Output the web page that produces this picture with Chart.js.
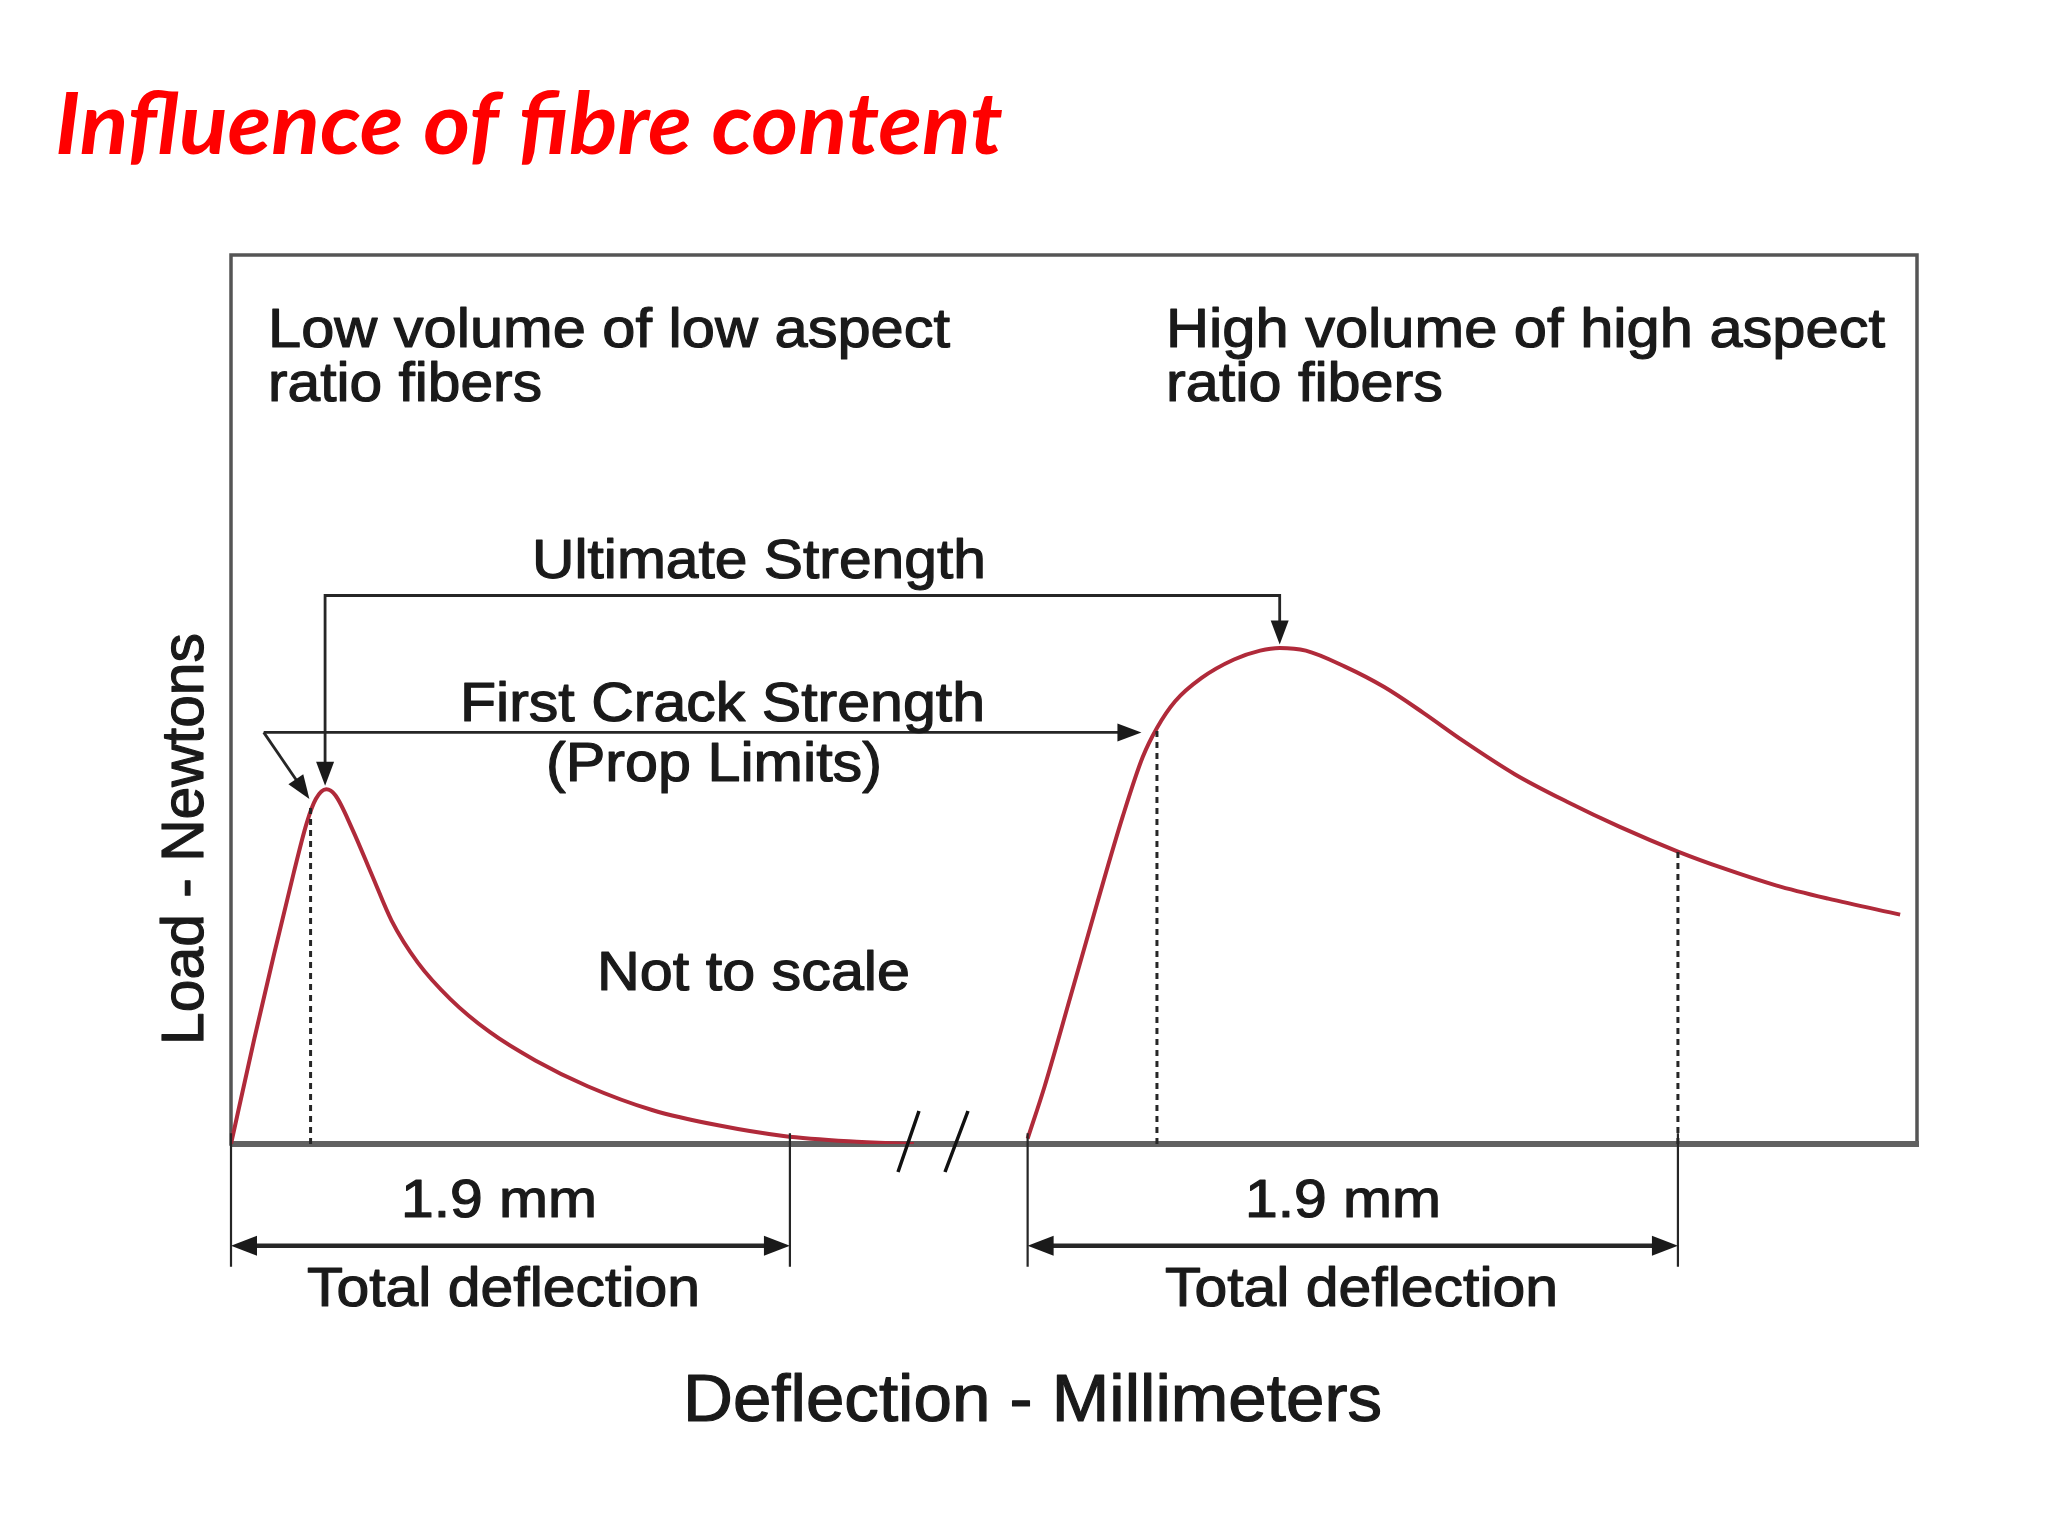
<!DOCTYPE html>
<html><head><meta charset="utf-8">
<script src="https://cdn.jsdelivr.net/npm/chart.js@4.4.1/dist/chart.umd.min.js"></script>
<style>html,body{margin:0;padding:0;background:#fff}canvas{display:block}</style>
</head><body>
<canvas id="c" width="2048" height="1536" style="width:2048px;height:1536px"></canvas>
<script>
// ---- data (arbitrary units: x 0..100 across the frame, y 0..100 up the frame) ----
const curve1X = [0, 1.39, 2.56, 3.72, 4.49, 5.03, 5.65, 6.20, 7.20, 8.37, 9.53, 11.08, 13.01, 15.34, 18.05, 21.15, 25.02, 28.89, 32.77, 36.64, 40.5];
const curve1Y = [0, 11.9, 21.4, 30.5, 36.1, 38.8, 39.9, 39.2, 35.4, 30.2, 25.1, 20.4, 16.3, 12.6, 9.4, 6.5, 3.8, 2.1, 0.9, 0.3, 0];
const curve2X = [47.25, 48.26, 49.81, 51.36, 52.90, 54.07, 54.92, 56.00, 57.55, 59.49, 61.04, 62.20, 63.75, 66.07, 68.40, 70.72, 73.04, 76.14, 79.24, 82.34, 85.82, 88.54, 91.63, 94.73, 99.0];
const curve2Y = [0.6, 6.5, 16.7, 27.0, 36.9, 43.5, 46.8, 49.8, 52.4, 54.5, 55.5, 55.8, 55.5, 53.7, 51.4, 48.5, 45.4, 41.6, 38.5, 35.7, 32.9, 31.0, 29.1, 27.6, 25.8];

const dottedX   = [4.72, 54.92, 85.82];
const dottedTop = [37.9, 46.8, 32.9];
const spanStart = [0, 47.25];
const spanEnd   = [33.15, 85.82];
const spanLabel = ['1.9 mm', '1.9 mm'];
const spanTitle = ['Total deflection', 'Total deflection'];

const TITLE = 'Influence of fibre content';
const X_TITLE = 'Deflection - Millimeters';
const Y_TITLE = 'Load - Newtons';
const LEFT_NOTE = ['Low volume of low aspect', 'ratio fibers'];
const RIGHT_NOTE = ['High volume of high aspect', 'ratio fibers'];

const CURVE = '#b02a3a';
const INK = '#1a1a1a';

const toPts = (xs, ys) => xs.map((x, i) => ({x, y: ys[i]}));

function fitText(ctx, text, x, y, width, size, font, align, heavy) {
  ctx.save();
  ctx.font = font.replace('{s}', size + 'px');
  ctx.textBaseline = 'alphabetic';
  ctx.textAlign = 'left';
  const w = ctx.measureText(text).width;
  const k = width / w;
  let left = x;
  if (align === 'center') left = x - width / 2;
  ctx.translate(left, y);
  ctx.scale(k, 1);
  ctx.fillText(text, 0, 0);
  if (heavy) {
    ctx.strokeStyle = ctx.fillStyle;
    ctx.lineWidth = heavy;
    ctx.lineJoin = 'round';
    ctx.strokeText(text, 0, 0);
  }
  ctx.restore();
}

function arrowHead(ctx, tx, ty, fx, fy, len, half) {
  const a = Math.atan2(ty - fy, tx - fx);
  const c = Math.cos(a), s = Math.sin(a);
  ctx.beginPath();
  ctx.moveTo(tx, ty);
  ctx.lineTo(tx - len * c + half * s, ty - len * s - half * c);
  ctx.lineTo(tx - len * c - half * s, ty - len * s + half * c);
  ctx.closePath();
  ctx.fill();
}

const frame = {
  id: 'frame',
  beforeDatasetsDraw(chart) {
    const {ctx, chartArea: a} = chart;
    ctx.save();
    ctx.strokeStyle = '#555';
    ctx.lineWidth = 3.5;
    ctx.strokeRect(a.left, a.top, a.right - a.left, a.bottom - a.top);
    ctx.strokeStyle = '#616161';
    ctx.lineWidth = 6;
    ctx.beginPath(); ctx.moveTo(a.left - 1, a.bottom); ctx.lineTo(a.right + 2, a.bottom); ctx.stroke();
    ctx.restore();
  },
  afterDatasetsDraw(chart) {
    const {ctx} = chart;
    const X = v => chart.scales.x.getPixelForValue(v);
    const Y = v => chart.scales.y.getPixelForValue(v);
    ctx.save();
    ctx.fillStyle = INK;
    ctx.strokeStyle = '#262626';
    ctx.lineCap = 'butt';

    // dotted verticals
    ctx.lineWidth = 3;
    ctx.setLineDash([6, 5]);
    dottedX.forEach((x, i) => {
      ctx.beginPath(); ctx.moveTo(X(x), Y(0)); ctx.lineTo(X(x), Y(dottedTop[i])); ctx.stroke();
    });
    ctx.setLineDash([]);

    // Ultimate strength bracket
    ctx.lineWidth = 2.8;
    const uy = 61.7, ulx = 5.58, urx = 62.2;
    ctx.beginPath();
    ctx.moveTo(X(ulx), Y(40.3) - 18);
    ctx.lineTo(X(ulx), Y(uy));
    ctx.lineTo(X(urx), Y(uy));
    ctx.lineTo(X(urx), Y(56.2) - 18);
    ctx.stroke();
    arrowHead(ctx, X(ulx), Y(40.3), X(ulx), Y(uy), 24, 9);
    arrowHead(ctx, X(urx), Y(56.2), X(urx), Y(uy), 24, 9);

    // First crack strength
    const fy = 46.3, fx0 = 1.94, fx1 = 54.0;
    ctx.beginPath();
    ctx.moveTo(X(fx0), Y(fy)); ctx.lineTo(X(fx1) - 18, Y(fy)); ctx.stroke();
    arrowHead(ctx, X(fx1), Y(fy), X(fx0), Y(fy), 24, 9);
    const dtx = X(4.65), dty = Y(38.8);
    const ang = Math.atan2(dty - Y(fy), dtx - X(fx0));
    ctx.beginPath();
    ctx.moveTo(X(fx0), Y(fy)); ctx.lineTo(dtx - 18 * Math.cos(ang), dty - 18 * Math.sin(ang)); ctx.stroke();
    arrowHead(ctx, dtx, dty, X(fx0), Y(fy), 24, 9);

    // dimension lines
    const extTop = 1.2, extBot = -13.8, dimY = -11.45;
    spanStart.forEach((s, i) => {
      const e = spanEnd[i];
      ctx.lineWidth = 2.2;
      ctx.beginPath();
      ctx.moveTo(X(s), Y(extTop)); ctx.lineTo(X(s), Y(extBot));
      ctx.moveTo(X(e), Y(extTop)); ctx.lineTo(X(e), Y(extBot));
      ctx.stroke();
      ctx.lineWidth = 4.5;
      ctx.beginPath(); ctx.moveTo(X(s) + 18, Y(dimY)); ctx.lineTo(X(e) - 18, Y(dimY)); ctx.stroke();
      arrowHead(ctx, X(s), Y(dimY), X(e), Y(dimY), 26, 10);
      arrowHead(ctx, X(e), Y(dimY), X(s), Y(dimY), 26, 10);
    });

    // axis break marks
    ctx.strokeStyle = '#111';
    ctx.lineWidth = 3.5;
    ctx.beginPath();
    ctx.moveTo(919, 1111); ctx.lineTo(898, 1172);
    ctx.moveTo(968, 1111); ctx.lineTo(945, 1172);
    ctx.stroke();

    // texts
    const F = '{s} "Liberation Sans", Arial, sans-serif';
    const H = 1.2;
    fitText(ctx, LEFT_NOTE[0], 268, 347, 682, 56, F, null, H);
    fitText(ctx, LEFT_NOTE[1], 268, 401, 274, 56, F, null, H);
    fitText(ctx, RIGHT_NOTE[0], 1166, 347, 719, 56, F, null, H);
    fitText(ctx, RIGHT_NOTE[1], 1166, 401, 277, 56, F, null, H);
    fitText(ctx, 'Ultimate Strength', 532, 578, 454, 55, F, null, H);
    fitText(ctx, 'First Crack Strength', 460, 721, 525, 56, F, null, H);
    fitText(ctx, '(Prop Limits)', 546, 781, 336, 56, F, null, H);
    fitText(ctx, 'Not to scale', 597, 990, 313, 56, F, null, H);
    [0, 1].forEach(i => {
      fitText(ctx, spanLabel[i], i === 0 ? 401 : 1245, 1217, 196, 53, F, null, H);
      fitText(ctx, spanTitle[i], i === 0 ? 307 : 1165, 1306, 393, 56, F, null, H);
    });
    fitText(ctx, X_TITLE, 683, 1421, 699, 67, F, null, H);
    ctx.save();
    ctx.translate(203, 839);
    ctx.rotate(-Math.PI / 2);
    fitText(ctx, Y_TITLE, 0, 0, 412, 59, F, 'center', H);
    ctx.restore();

    // title
    ctx.fillStyle = '#ff0000';
    fitText(ctx, TITLE, 55, 154, 948, 86, 'italic bold {s} Lato, "Open Sans", sans-serif');
    ctx.restore();
  }
};

new Chart(document.getElementById('c').getContext('2d'), {
  type: 'scatter',
  data: {
    datasets: [
      {label: LEFT_NOTE.join(' '), data: toPts(curve1X, curve1Y), showLine: true,
       borderColor: CURVE, borderWidth: 4, pointRadius: 0, cubicInterpolationMode: 'monotone', fill: false},
      {label: RIGHT_NOTE.join(' '), data: toPts(curve2X, curve2Y), showLine: true,
       borderColor: CURVE, borderWidth: 4, pointRadius: 0, cubicInterpolationMode: 'monotone', fill: false}
    ]
  },
  options: {
    responsive: false, animation: false, devicePixelRatio: 1,
    layout: {padding: {left: 231, right: 131, top: 255, bottom: 392}},
    scales: {
      x: {type: 'linear', min: 0, max: 100, display: false},
      y: {type: 'linear', min: 0, max: 100, display: false}
    },
    plugins: {legend: {display: false}, tooltip: {enabled: false}, title: {display: false}}
  },
  plugins: [frame]
});
</script>
</body></html>
